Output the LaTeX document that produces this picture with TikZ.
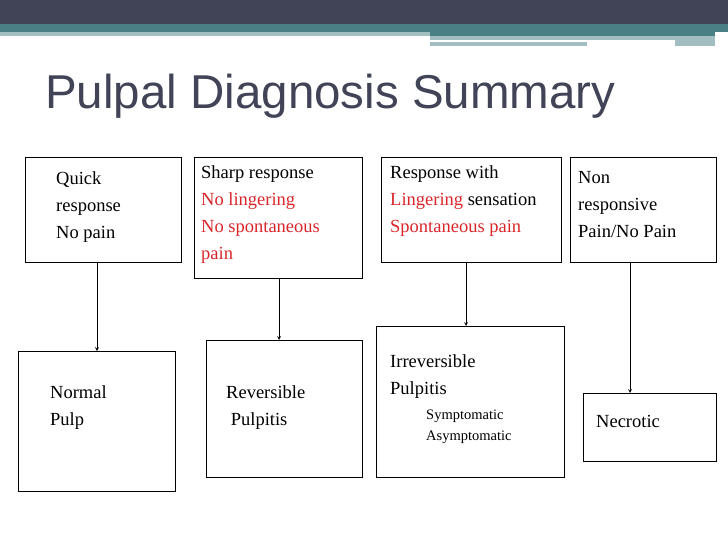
\documentclass[tikz,border=0pt]{standalone}
\usepackage{fontspec}
\setmainfont{Liberation Serif}
\newfontfamily\ttl{Liberation Sans}
\definecolor{dark}{HTML}{414356}
\definecolor{teal}{HTML}{4A8085}
\definecolor{lteal}{HTML}{A3BEC1}
\definecolor{rd}{HTML}{D9262B}
\begin{document}
\begin{tikzpicture}[x=1pt,y=-1pt,
 box/.style={draw,line width=0.7pt},
 t/.style={anchor=north west,align=left,inner sep=0pt,font=\fontsize{18.5}{27}\selectfont},
 s/.style={anchor=north west,align=left,inner sep=0pt,font=\fontsize{14.5}{21}\selectfont},
 arr/.style={-stealth,line width=0.7pt}]
\useasboundingbox (0,0) rectangle (728,546);
\fill[dark] (0,0) rectangle (728,24);
\fill[teal] (0,24) rectangle (728,32);
\fill[lteal] (0,32) rectangle (430,36);
\fill[teal] (430,32) rectangle (715,36);
\fill[lteal] (430,36) rectangle (715,40);
\fill[lteal] (675,40) rectangle (715,46);
\fill[lteal] (430,42) rectangle (587,46);
\node[anchor=base west,inner sep=0pt,text=dark,font=\ttl\fontsize{47.5}{54}\selectfont] (title) at (45,108) {Pulpal Diagnosis Summary};
\node[box,minimum width=156pt,minimum height=105pt,anchor=north west] (a1) at (25,157) {};
\node[box,minimum width=168pt,minimum height=121pt,anchor=north west] (a2) at (194,157) {};
\node[box,minimum width=180pt,minimum height=105pt,anchor=north west] (a3) at (381,157) {};
\node[box,minimum width=146pt,minimum height=105pt,anchor=north west] (a4) at (570,157) {};
\node[box,minimum width=157pt,minimum height=140pt,anchor=north west] (b1) at (18,351) {};
\node[box,minimum width=156pt,minimum height=137pt,anchor=north west] (b2) at (206,340) {};
\node[box,minimum width=188pt,minimum height=151pt,anchor=north west] (b3) at (376,326) {};
\node[box,minimum width=133pt,minimum height=68pt,anchor=north west] (b4) at (583,393) {};
\node[t] (ta1) at (56,171) {Quick\\response\\No pain};
\node[t] (ta2) at (201,165) {Sharp response\\\textcolor{rd}{No lingering}\\\textcolor{rd}{No spontaneous}\\\textcolor{rd}{pain}};
\node[t] (ta3) at (390,165) {Response with\\\textcolor{rd}{Lingering} sensation\\\textcolor{rd}{Spontaneous pain}};
\node[t] (ta4) at (578,171) {Non\\responsive\\Pain/No Pain};
\node[t] (tb1) at (50,385) {Normal\\Pulp};
\node[t] (tb2) at (226,385) {Reversible\\\ Pulpitis};
\node[t] (tb3) at (390,354) {Irreversible\\Pulpitis};
\node[s] (sb3) at (426,410) {Symptomatic\\Asymptomatic};
\node[t] (tb4) at (596,415) {Necrotic};
\draw[arr] (a1.south -| 97,0) -- (b1.north -| 97,0);
\draw[arr] (a2.south -| 279,0) -- (b2.north -| 279,0);
\draw[arr] (a3.south -| 466,0) -- (b3.north -| 466,0);
\draw[arr] (a4.south -| 630,0) -- (b4.north -| 630,0);
\end{tikzpicture}
\end{document}
